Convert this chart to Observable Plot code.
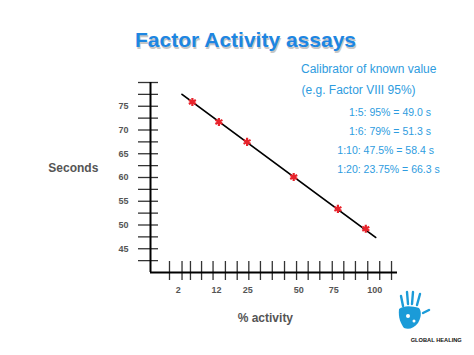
<!DOCTYPE html>
<html>
<head>
<meta charset="utf-8">
<script src="https://cdn.jsdelivr.net/npm/d3@7"></script>
<script src="https://cdn.jsdelivr.net/npm/@observablehq/plot@0.6"></script>
<style>
  html, body { margin: 0; padding: 0; background: #fff; }
  #chart { width: 474px; height: 355px; position: relative; }
</style>
</head>
<body>
<div id="chart"></div>
<script>
// ---- data ----
const activity = [5.7, 13, 24.7, 47.5, 77.5, 94.5];      // % activity
const seconds  = [75.9, 71.7, 67.5, 60.1, 53.4, 49.2];   // clotting time, s
const fitActivity = [3, 100.5];                           // fitted line ends
const fitSeconds  = [77.5, 47.4];
const xTickLabels = [2, 12, 25, 50, 75, 100];
const xMinorTicks = [-0.2, 3, 5.2, 8.1, 11.1, 15.7, 20.6, 25.5, 31.2, 37, 43, 48.9, 56.7, 65, 73.9, 81.1, 88.2, 95.7, 103, 110.2];
const yTickLabels = [45, 50, 55, 60, 65, 70, 75];
const yMinorTicks = d3.range(42.5, 80.01, 2.5);
const xAxisStart = -5;
const title = "Factor Activity assays";
const noteLines = ["Calibrator of known value", "(e.g. Factor VIII 95%)"];
const dilutions = ["1:5: 95% = 49.0 s", "1:6: 79% = 51.3 s", "1:10: 47.5% = 58.4 s", "1:20: 23.75% = 66.3 s"];

const points = activity.map((a, i) => ({a, s: seconds[i]}));
const fit = fitActivity.map((a, i) => ({a, s: fitSeconds[i]}));

const W = 474, H = 355;
const font = "'Liberation Sans', Arial, Helvetica, sans-serif";

const plot = Plot.plot({
  width: W, height: H,
  marginLeft: 150, marginRight: 77, marginTop: 82, marginBottom: 83,
  style: {fontFamily: font, background: "white", overflow: "visible"},
  x: {type: "linear", domain: [xAxisStart, ...xTickLabels], range: [150, 177.7, 216, 247.3, 298.3, 333.3, 374.3], axis: null},
  y: {type: "linear", domain: [40, 80], axis: null},
  marks: [
    Plot.ruleY(yMinorTicks, {y: d => d, insetLeft: -12, insetRight: 239, stroke: "#333", strokeWidth: 1.3}),
    Plot.ruleX(xMinorTicks, {x: d => d, insetTop: 179, insetBottom: -8, stroke: "#333", strokeWidth: 1.3}),
    Plot.text(yTickLabels, {y: d => d, frameAnchor: "left", dx: -22, textAnchor: "end", fontSize: 9, fontWeight: "bold", fill: "#555"}),
    Plot.text(xTickLabels, {x: d => d, frameAnchor: "bottom", dy: 20.7, fontSize: 9, fontWeight: "bold", fill: "#555"}),
    Plot.ruleX([xAxisStart], {stroke: "black", strokeWidth: 2}),
    Plot.ruleY([40], {stroke: "black", strokeWidth: 2}),
    Plot.line(fit, {x: "a", y: "s", stroke: "black", strokeWidth: 1.8}),
    Plot.dot(points, {x: "a", y: "s", symbol: "asterisk", r: 3.8, stroke: "#e8232b", strokeWidth: 2.2})
  ]
});
document.getElementById("chart").append(plot);

const svg = d3.select(plot);
function txt(x, y, s, o = {}) {
  return svg.append("text").attr("x", x).attr("y", y).text(s)
    .attr("font-family", font).attr("font-size", o.size || 12)
    .attr("font-weight", o.weight || "normal").attr("fill", o.fill || "#000")
    .attr("text-anchor", o.anchor || "start");
}
// title with soft shadow
txt(136, 48.5, title, {size: 21, weight: "bold", fill: "#c6c6c6"});
txt(135, 47.3, title, {size: 21, weight: "bold", fill: "#1d86e2"});
// notes
txt(301, 73.3, noteLines[0], {size: 12, fill: "#2e9ce0"});
txt(301.5, 94, noteLines[1], {size: 12, fill: "#2e9ce0"});
const nx = [349, 349, 337.3, 337.3], ny = [116.1, 135.4, 154.4, 173];
dilutions.forEach((d, i) => txt(nx[i], ny[i], d, {size: 10.5, fill: "#2e9ce0"}));
// axis titles
txt(48.3, 172, "Seconds", {size: 12, weight: "bold", fill: "#555"});
txt(237.7, 322.3, "% activity", {size: 12, weight: "bold", fill: "#555"});
// logo
const g = svg.append("g").attr("fill", "#1b9bd8").attr("stroke", "#1b9bd8");
[[401,296,403,306],[407,292,408,304],[413,292,412,304],[420,294,417,305]].forEach(([x1,y1,x2,y2]) =>
  g.append("line").attr("x1", x1).attr("y1", y1).attr("x2", x2).attr("y2", y2).attr("stroke-width", 2.4).attr("stroke-linecap", "round"));
g.append("path").attr("stroke", "none")
  .attr("d", "M399,309 C404,305 412,306 419,308 C422,312 421,318 418,323 C414,328 409,330 404,328 C401,324 398,318 399,309 Z");
g.append("line").attr("x1", 423).attr("y1", 313).attr("x2", 429).attr("y2", 310).attr("stroke-width", 2.4).attr("stroke-linecap", "round");
svg.append("circle").attr("cx", 408).attr("cy", 316).attr("r", 2).attr("fill", "white");
svg.append("circle").attr("cx", 414).attr("cy", 321).attr("r", 1.5).attr("fill", "white");
txt(410.7, 341.5, "GLOBAL HEALING", {size: 5.7, weight: "bold", fill: "#111"});
</script>
</body>
</html>
